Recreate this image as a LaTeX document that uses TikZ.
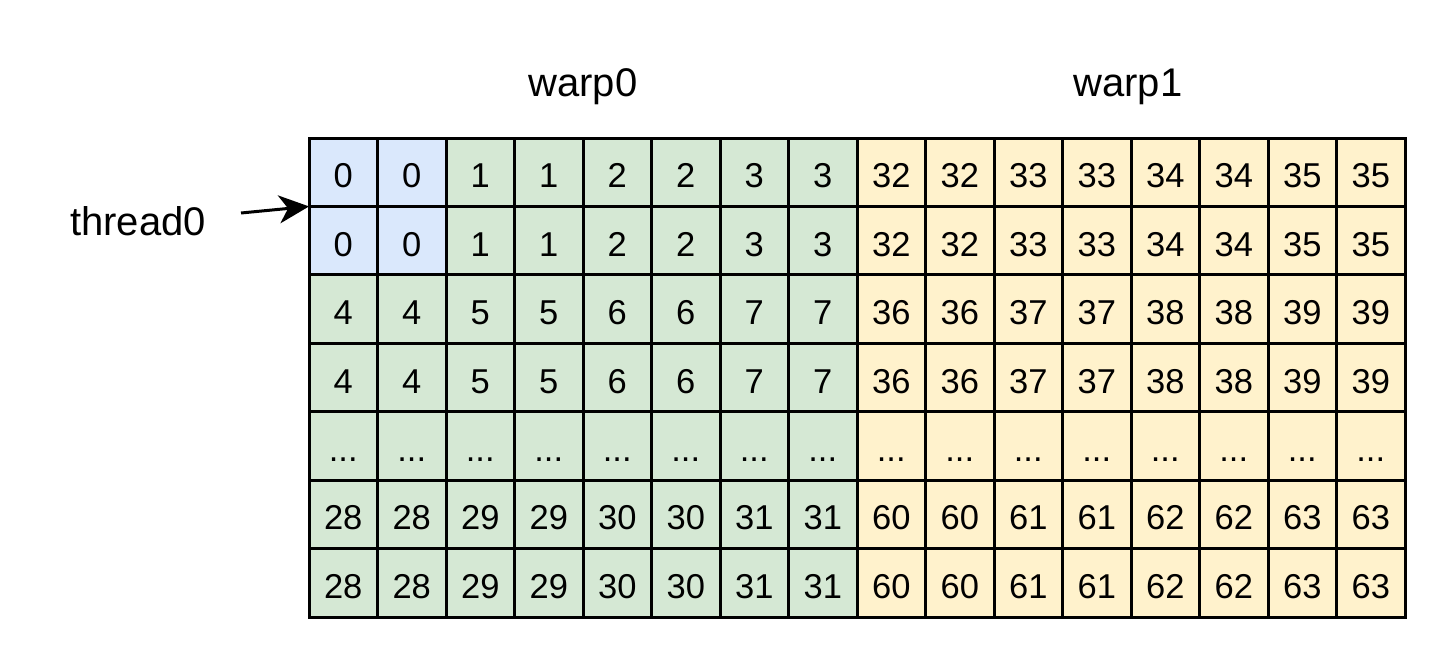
\documentclass[tikz,border=0pt]{standalone}
\usepackage{fontspec}
\setmainfont{Liberation Sans}
\usetikzlibrary{arrows.meta}
\definecolor{cblue}{HTML}{DAE8FC}
\definecolor{cgreen}{HTML}{D5E8D4}
\definecolor{cyellow}{HTML}{FFF2CC}
\tikzset{
  cell/.style={draw=black, line width=3pt, rectangle, inner sep=0pt, outer sep=0pt,
    minimum width=68.5pt, minimum height=68.43pt,
    font=\fontsize{34.5}{40}\selectfont, text height=31pt, text depth=0pt},
  lbl/.style={font=\fontsize{40}{46}\selectfont, inner sep=0pt},
  pointer/.style={line width=3pt, -{Stealth[length=30pt,width=28pt,inset=9pt]}}
}
\begin{document}
\begin{tikzpicture}[x=1pt,y=-1pt]
\useasboundingbox (0,0) rectangle (1440,653);
\foreach \r in {0,...,6}{
  \foreach \c in {0,...,15}{
    \pgfmathtruncatemacro{\w}{int(\c/8)}
    \pgfmathtruncatemacro{\k}{int(mod(\c,8)/2)}
    \pgfmathtruncatemacro{\base}{\r<2 ? 0 : (\r<4 ? 4 : 28)}
    \pgfmathtruncatemacro{\v}{\base+\k+32*\w}
    \pgfmathsetmacro{\cx}{309+68.5*(\c+0.5)}
    \pgfmathsetmacro{\cy}{138+68.43*(\r+0.5)}
    \ifnum\w=0
      \ifnum\r<2 \ifnum\c<2 \def\fc{cblue}\else\def\fc{cgreen}\fi\else\def\fc{cgreen}\fi
    \else \def\fc{cyellow}\fi
    \ifnum\r=4
      \node[cell, fill=\fc] (c-\r-\c) at (\cx,\cy) {...};
    \else
      \node[cell, fill=\fc] (c-\r-\c) at (\cx,\cy) {\v};
    \fi
  }
}
\node[lbl] (warp0) at (583,87) {warp0};
\node[lbl] (warp1) at (1128,87) {warp1};
\node[lbl] (thread0) at (138,221) {thread0};
\coordinate (tstart) at (241,213);
\draw[pointer] (tstart) -- (c-0-0.south west);
\end{tikzpicture}
\end{document}
